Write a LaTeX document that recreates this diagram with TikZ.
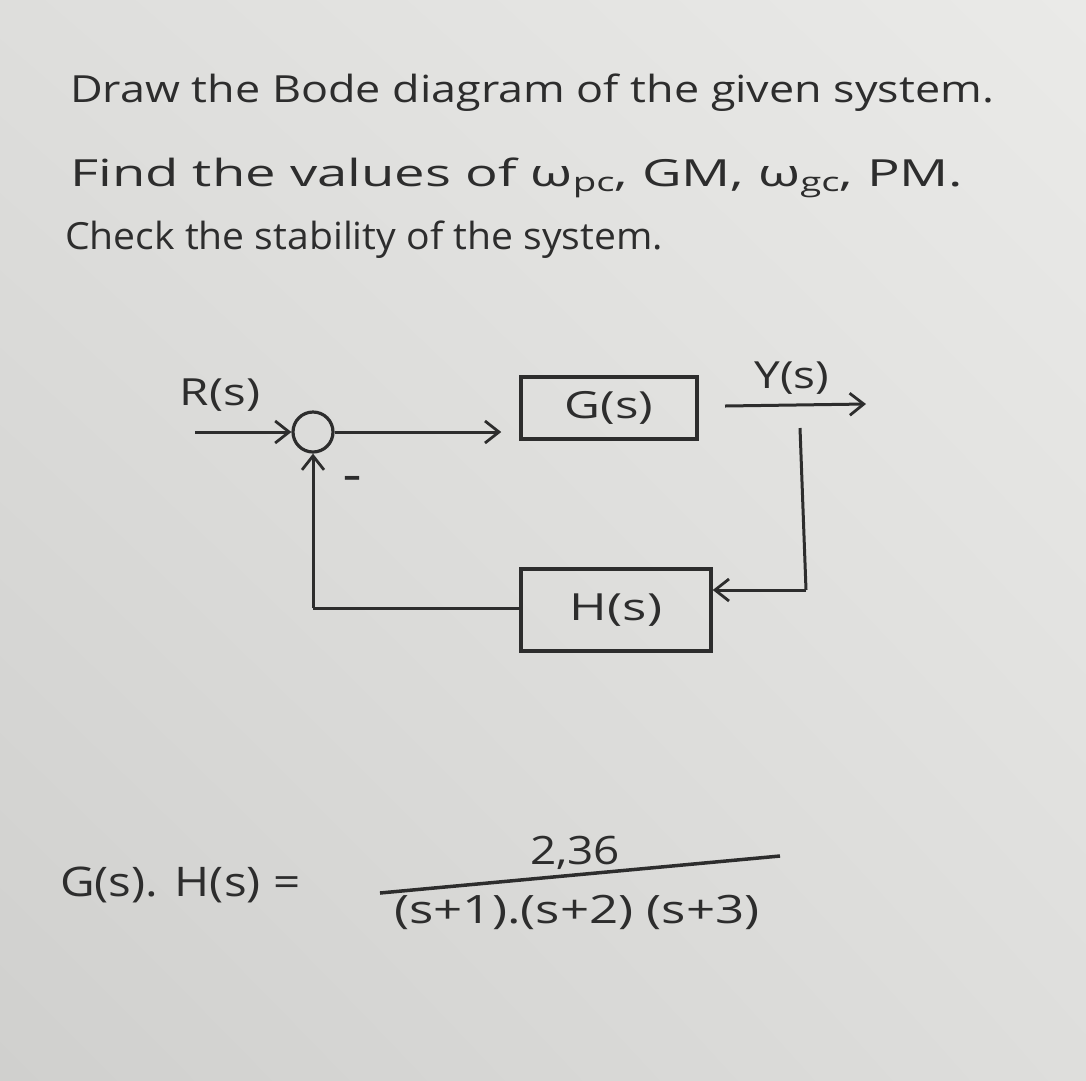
\documentclass[tikz,border=0pt]{standalone}
\usepackage{fontspec}
\setmainfont{Open Sans}
\usetikzlibrary{arrows.meta,calc,shadings}
\definecolor{paper}{RGB}{222,222,220}
\definecolor{paperdark}{RGB}{208,208,206}
\definecolor{paperlight}{RGB}{234,234,232}
\definecolor{ink}{RGB}{45,45,45}
\newcommand\hw[2]{\scalebox{#1}[1.1]{#2}}
\newcommand\om[1]{ω\raisebox{-0.25ex}{\fontsize{24}{28}\selectfont #1}}
\tikzset{
  hand/.style={text=ink, inner sep=0pt, font=\fontsize{34}{40}\selectfont},
  blk/.style={draw=ink, line width=3.5pt, font=\fontsize{34}{40}\selectfont, text=ink},
  wire/.style={draw=ink, line width=3pt},
  arr/.style={wire, -{Straight Barb[length=14pt,width=22pt,line width=2.8pt]}},
}
\begin{document}
\begin{tikzpicture}[x=1pt,y=-1pt]
\shade[lower left=paperdark, upper right=paperlight, lower right=paper, upper left=paper] (0,0) rectangle (1086,1080);
\useasboundingbox (0,0) rectangle (1086,1080);
% header text
\node[hand, anchor=west] (l1) at (70,93) {\hw{1.32}{Draw the Bode diagram of the given system.}};
\node[hand, anchor=west] (l2) at (70,178) {\hw{1.6}{Find the values of \om{pc}, GM, \om{gc}, PM.}};
\node[hand, anchor=west] (l3) at (65,240) {\hw{1.15}{Check the stability of the system.}};
% block diagram
\node[draw=ink, line width=3.2pt, circle, minimum size=40pt, inner sep=0pt] (sum) at (313,432) {};
\node[blk, minimum width=176pt, minimum height=62pt] (G) at (609,408) {\hw{1.45}{G(s)}};
\node[blk, minimum width=190pt, minimum height=82pt] (H) at (616,610) {\hw{1.5}{H(s)}};
\coordinate (rin) at (195,432);
\node[hand] (R) at (220,395) {\hw{1.4}{R(s)}};
\draw[arr] (rin) -- (sum.west);
\draw[arr, shorten >=18pt] (sum.east) -- (G.west |- sum.east);
\coordinate (yo1) at (725,406);
\coordinate (yo2) at (866,404);
\node[hand] (Y) at (792,378) {\hw{1.35}{Y(s)}};
\draw[arr] (yo1) -- (yo2);
\coordinate (fb1) at (800,428);
\coordinate (fb2) at (806,590);
\draw[wire] (fb1) -- (fb2);
\draw[arr] (fb2) -- (H.east |- fb2);
\coordinate (fb3) at (313,608);
\draw[wire] (H.west |- fb3) -- (fb3);
\draw[arr] (fb3) -- (sum.south);
\node[hand] (minus) at (352,482) {\bfseries –};
% equation
\node[hand, anchor=west] (lhs) at (60,885) {\scalebox{1.4}[1.2]{G(s). H(s) =}};
\coordinate (fl) at (380,893);
\coordinate (fr) at (780,856);
\draw[wire, line width=3.5pt] (fl) -- (fr);
\node[hand] (num) at (575,853) {\scalebox{1.35}[1.15]{2,36}};
\node[hand] (den) at (577,912) {\scalebox{1.5}[1.15]{(s+1).(s+2) (s+3)}};
\end{tikzpicture}
\end{document}
